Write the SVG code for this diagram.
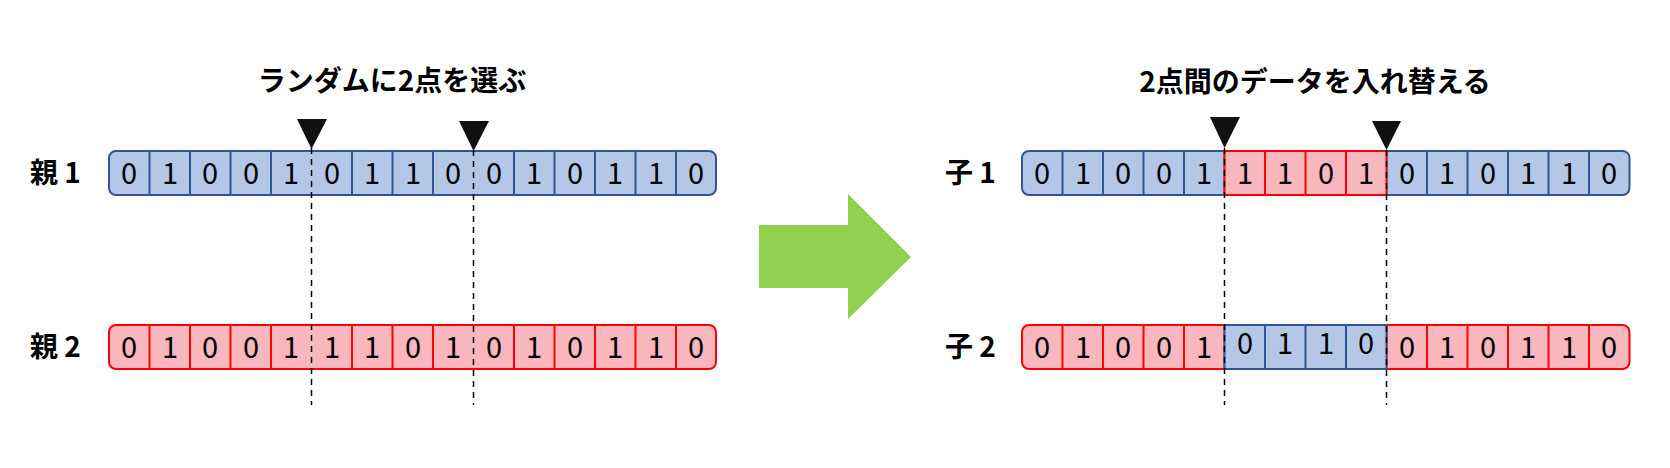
<svg xmlns="http://www.w3.org/2000/svg" width="1670" height="468" viewBox="0 0 1670 468">
<style>
.t{font-family:"Noto Sans CJK JP",sans-serif;font-weight:bold;fill:#000}
.d{font-family:"Noto Sans CJK JP",sans-serif;font-size:29px;fill:#000;text-anchor:middle}
.b{fill:#b4c7e7;stroke:#2f5597;stroke-width:2}
.r{fill:#f8b6bd;stroke:#ff0000;stroke-width:2}
.dash{stroke:#000;stroke-width:1.5;stroke-dasharray:6,5;fill:none}
</style>
<rect width="1670" height="468" fill="#fff"/>
<text class="t" x="392" y="91" font-size="28" text-anchor="middle">ランダムに2点を選ぶ</text>
<text class="t" x="1315" y="92" font-size="28" text-anchor="middle">2点間のデータを入れ替える</text>
<g id="label-p1"><text class="t" x="30" y="183" font-size="28">親 1</text></g>
<g id="label-p2"><text class="t" x="30" y="357" font-size="28">親 2</text></g>
<g id="label-c1"><text class="t" x="945" y="183" font-size="28">子 1</text></g>
<g id="label-c2"><text class="t" x="945" y="357" font-size="28">子 2</text></g>
<g id="parent1">
<rect class="b" x="109" y="151" width="607" height="44" rx="7"/>
<path d="M149.5 151V195M190 151V195M230.5 151V195M271 151V195M352 151V195M392.5 151V195M433 151V195M514 151V195M554.5 151V195M595 151V195M635.5 151V195M676 151V195" stroke="#2f5597" stroke-width="2"/>
<g class="d"><text x="129" y="184">0</text><text x="170" y="184">1</text><text x="210" y="184">0</text><text x="251" y="184">0</text><text x="291" y="184">1</text><text x="332" y="184">0</text><text x="372" y="184">1</text><text x="413" y="184">1</text><text x="453" y="184">0</text><text x="494" y="184">0</text><text x="534" y="184">1</text><text x="575" y="184">0</text><text x="615" y="184">1</text><text x="656" y="184">1</text><text x="696" y="184">0</text></g>
</g>
<g id="parent2">
<rect class="r" x="109" y="325" width="607" height="44" rx="7"/>
<path d="M149.5 325V369M190 325V369M230.5 325V369M271 325V369M352 325V369M392.5 325V369M433 325V369M514 325V369M554.5 325V369M595 325V369M635.5 325V369M676 325V369" stroke="#ff0000" stroke-width="2"/>
<g class="d"><text x="129" y="358">0</text><text x="170" y="358">1</text><text x="210" y="358">0</text><text x="251" y="358">0</text><text x="291" y="358">1</text><text x="332" y="358">1</text><text x="372" y="358">1</text><text x="413" y="358">0</text><text x="453" y="358">1</text><text x="494" y="358">0</text><text x="534" y="358">1</text><text x="575" y="358">0</text><text x="615" y="358">1</text><text x="656" y="358">1</text><text x="696" y="358">0</text></g>
</g>
<g id="child1">
<path class="b" d="M1224.5 151H1029A7 7 0 0 0 1022 158V188A7 7 0 0 0 1029 195H1224.5Z"/>
<path class="b" d="M1386.5 151H1622.5A7 7 0 0 1 1629.5 158V188A7 7 0 0 1 1622.5 195H1386.5Z"/>
<rect class="r" x="1224.5" y="151" width="162" height="44"/>
<path d="M1062.5 151V195M1103 151V195M1143.5 151V195M1184 151V195M1427 151V195M1467.5 151V195M1508 151V195M1548.5 151V195M1589 151V195" stroke="#2f5597" stroke-width="2"/>
<path d="M1265 151V195M1305.5 151V195M1346 151V195" stroke="#ff0000" stroke-width="2"/>
<g class="d"><text x="1042" y="184">0</text><text x="1083" y="184">1</text><text x="1123" y="184">0</text><text x="1164" y="184">0</text><text x="1204" y="184">1</text><text x="1245" y="184">1</text><text x="1285" y="184">1</text><text x="1326" y="184">0</text><text x="1366" y="184">1</text><text x="1407" y="184">0</text><text x="1447" y="184">1</text><text x="1488" y="184">0</text><text x="1528" y="184">1</text><text x="1569" y="184">1</text><text x="1609" y="184">0</text></g>
</g>
<g id="child2">
<path class="r" d="M1224.5 325H1029A7 7 0 0 0 1022 332V362A7 7 0 0 0 1029 369H1224.5Z"/>
<path class="r" d="M1386.5 325H1622.5A7 7 0 0 1 1629.5 332V362A7 7 0 0 1 1622.5 369H1386.5Z"/>
<rect class="b" x="1224.5" y="325" width="162" height="44"/>
<path d="M1062.5 325V369M1103 325V369M1143.5 325V369M1184 325V369M1427 325V369M1467.5 325V369M1508 325V369M1548.5 325V369M1589 325V369" stroke="#ff0000" stroke-width="2"/>
<path d="M1265 325V369M1305.5 325V369M1346 325V369" stroke="#2f5597" stroke-width="2"/>
<g class="d"><text x="1042" y="358">0</text><text x="1083" y="358">1</text><text x="1123" y="358">0</text><text x="1164" y="358">0</text><text x="1204" y="358">1</text><text x="1245" y="354">0</text><text x="1285" y="354">1</text><text x="1326" y="354">1</text><text x="1366" y="354">0</text><text x="1407" y="358">0</text><text x="1447" y="358">1</text><text x="1488" y="358">0</text><text x="1528" y="358">1</text><text x="1569" y="358">1</text><text x="1609" y="358">0</text></g>
</g>
<g id="connectors">
<path class="dash" d="M311.5 148V405M473.5 150V405M1224.5 148V405M1386.5 150V405"/>
<path d="M297 119H327L311.5 149Z M459 121H489L473.5 151Z M1210 117H1240L1224.5 148Z M1372 121H1401L1386.5 150Z" fill="#111"/>
</g>
<g id="arrow"><path d="M759 225H848V194L911 257L848 319V288H759Z" fill="#92d050"/></g>
</svg>
